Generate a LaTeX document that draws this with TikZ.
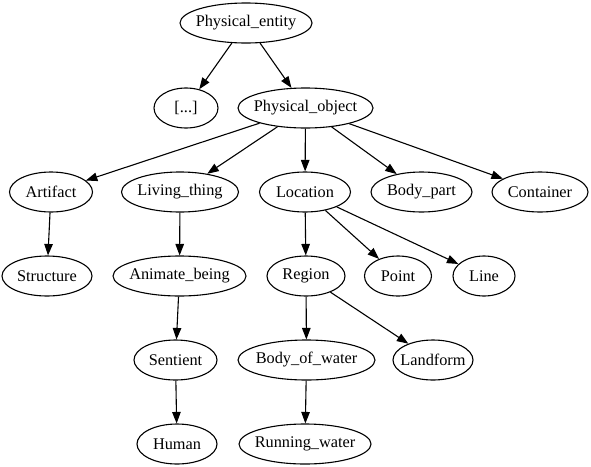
\documentclass[tikz,border=0pt]{standalone}
\usepackage{fontspec}
\setmainfont{Liberation Serif}
\usetikzlibrary{shapes.geometric,arrows.meta}
\tikzset{
  nd/.style={ellipse,draw,line width=1.1pt,inner sep=0pt,minimum height=40pt,font=\fontsize{16.3}{19}\selectfont},
  ed/.style={draw,line width=1.1pt,-{Triangle[length=11.5pt,width=8.5pt]}}
}
\newcommand{\lbl}[1]{\makebox[0pt]{#1}}
\begin{document}
\begin{tikzpicture}[x=1pt,y=-1pt]
\useasboundingbox (0,0) rectangle (591,466);
\node[nd,minimum width=132pt] (pe) at (246,23) {\lbl{Physical\_entity}};
\node[nd,minimum width=64pt] (dots) at (186,108) {\lbl{[...]}};
\node[nd,minimum width=135pt] (po) at (305.5,108) {\lbl{Physical\_object}};
\node[nd,minimum width=83pt] (art) at (51,192) {\lbl{Artifact}};
\node[nd,minimum width=117pt] (lt) at (180,192) {\lbl{Living\_thing}};
\node[nd,minimum width=91pt] (loc) at (305,192) {\lbl{Location}};
\node[nd,minimum width=101pt] (bp) at (421.5,192) {\lbl{Body\_part}};
\node[nd,minimum width=96pt] (con) at (540,192) {\lbl{Container}};
\node[nd,minimum width=90pt] (str) at (47,276) {\lbl{Structure}};
\node[nd,minimum width=133pt] (ab) at (179.5,276) {\lbl{Animate\_being}};
\node[nd,minimum width=78pt] (reg) at (306,276) {\lbl{Region}};
\node[nd,minimum width=67pt] (pt) at (398,276) {\lbl{Point}};
\node[nd,minimum width=62pt] (ln) at (484,276) {\lbl{Line}};
\node[nd,minimum width=83pt] (sen) at (175.5,360) {\lbl{Sentient}};
\node[nd,minimum width=137pt] (bw) at (306.5,360) {\lbl{Body\_of\_water}};
\node[nd,minimum width=80pt] (lf) at (433,360) {\lbl{Landform}};
\node[nd,minimum width=80pt] (hum) at (177,444) {\lbl{Human}};
\node[nd,minimum width=132pt] (rw) at (305,444) {\lbl{Running\_water}};
\draw[ed] (pe) -- (dots);
\draw[ed] (pe) -- (po);
\draw[ed] (po) -- (art);
\draw[ed] (po) -- (lt);
\draw[ed] (po) -- (loc);
\draw[ed] (po) -- (bp);
\draw[ed] (po) -- (con);
\draw[ed] (art) -- (str);
\draw[ed] (lt) -- (ab);
\draw[ed] (loc) -- (reg);
\draw[ed] (loc) -- (pt);
\draw[ed] (loc) -- (ln);
\draw[ed] (ab) -- (sen);
\draw[ed] (reg) -- (bw);
\draw[ed] (reg) -- (lf);
\draw[ed] (sen) -- (hum);
\draw[ed] (bw) -- (rw);
\end{tikzpicture}
\end{document}
